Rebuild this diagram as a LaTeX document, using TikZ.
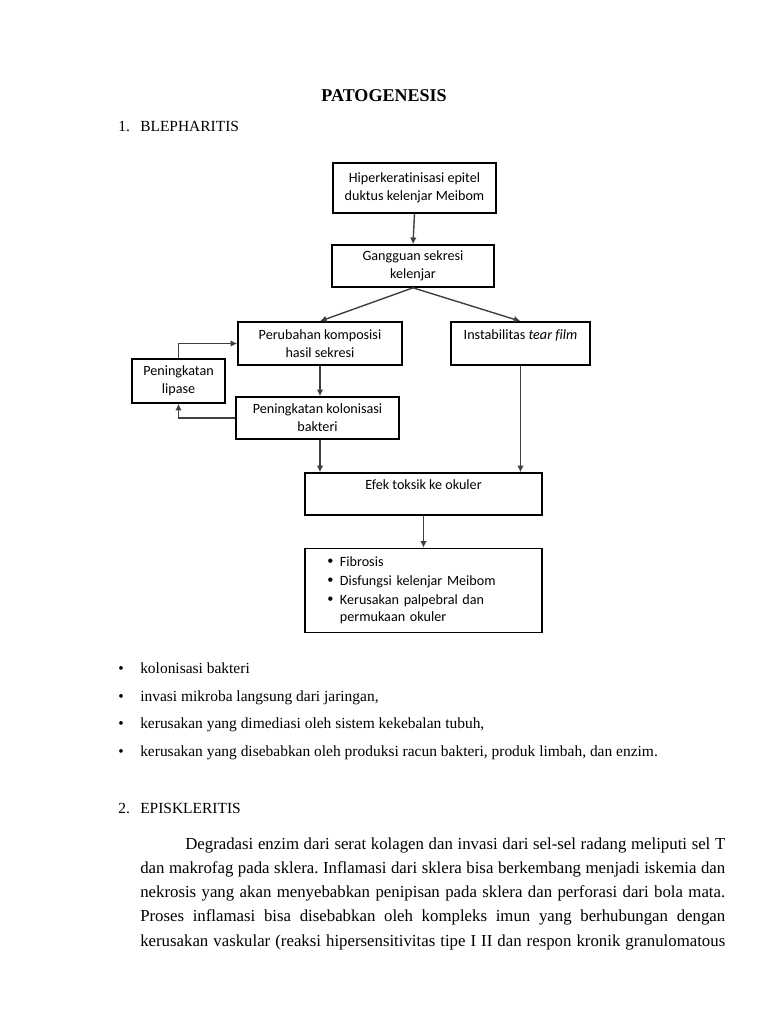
\documentclass[tikz,border=0pt]{standalone}
\usepackage{fontspec}
\setmainfont{Liberation Serif}
\newfontfamily\flowfont[Ligatures={NoCommon}]{Carlito}
\newfontfamily\bulfont{Liberation Sans}
\usetikzlibrary{arrows.meta}
\newcommand{\bodysize}{\fontsize{11.6pt}{18.2pt}\selectfont}
\newcommand{\parasize}{\fontsize{12.6pt}{18.2pt}\selectfont}
\newcommand{\jline}[2]{\makebox[#1][s]{#2}}
\newcommand{\fbul}{{\bulfont\fontsize{12pt}{12pt}\selectfont\textbullet}}
\begin{document}
\frenchspacing
\begin{tikzpicture}[x=0.75pt,y=-0.75pt,
  box/.style={draw=black,line width=1.2pt,inner sep=2pt,align=center,
    font=\flowfont\fontsize{10.6pt}{13.7pt}\selectfont},
  conn/.style={draw=black!75,line width=1.05pt,-{Latex[length=5pt,width=5pt]}},
  txt/.style={inner sep=0pt,anchor=base west,font=\bodysize},
  ptxt/.style={inner sep=0pt,anchor=base west,font=\parasize}]
\useasboundingbox (0,0) rectangle (768,1024);
\fill[white] (0,0) rectangle (768,1024);

% headings
\node[inner sep=0pt,anchor=base,font=\fontsize{13.5pt}{16pt}\selectfont\bfseries] (title) at (384,102) {PATOGENESIS};
\node[txt] (sec1) at (118,132) {\makebox[16.5pt][l]{1.}BLEPHARITIS};

% flowchart
\node[box,minimum width=122.25pt,minimum height=37.5pt] (h1) at (414.5,188) {Hiperkeratinisasi epitel\\duktus kelenjar Meibom};
\node[box,minimum width=121.5pt,minimum height=31.5pt] (h2) at (413,266) {Gangguan sekresi\\kelenjar};
\node[box,minimum width=123pt,minimum height=32.25pt] (h3) at (320,343.5) {Perubahan komposisi\\hasil sekresi};
\node[box,minimum width=104.25pt,minimum height=32.25pt] (h4) at (520.5,343.5) {Instabilitas \textit{tear film}\\\mbox{}};
\node[box,minimum width=69.75pt,minimum height=33pt] (h5) at (178.5,381) {Peningkatan\\lipase};
\node[box,minimum width=122.25pt,minimum height=31.5pt] (h6) at (317.5,418) {Peningkatan kolonisasi\\bakteri};
\node[box,minimum width=177.75pt,minimum height=31.5pt] (h7) at (423.5,494) {Efek toksik ke okuler\\\mbox{}};
\node[box,minimum width=177.75pt,minimum height=63pt,align=left,inner xsep=14pt,text width=149.75pt,
  font=\flowfont\fontsize{10.6pt}{12.75pt}\selectfont] (h8) at (423.5,590.5)
  {\begin{tabular}{@{\hspace{3pt}}l@{\hspace{5pt}}l@{}}
   \fbul & Fibrosis\\[1.5pt]
   \fbul & Disfungsi kelenjar Meibom\\[1.5pt]
   \fbul & Kerusakan palpebral dan\\
         & permukaan okuler
   \end{tabular}};

\draw[conn] (h1.south) -- (h2.north);
\draw[conn] (h2.south) -- (h3.north);
\draw[conn] (h2.south) -- (h4.north);
\draw[conn] (h3.south) -- (h3.south |- h6.north);
\draw[conn] (h5.north) |- (h3.west);
\draw[conn] (h6.west) -| (h5.south);
\draw[conn] (h3.south |- h6.south) -- (h3.south |- h7.north);
\draw[conn] (h4.south) -- (h4.south |- h7.north);
\draw[conn] (h7.south) -- (h8.north);

% bullet list
\node[txt] (b1) at (118,673) {\makebox[16.5pt][l]{\textbullet}kolonisasi bakteri};
\node[txt] (b2) at (118,701) {\makebox[16.5pt][l]{\textbullet}invasi mikroba langsung dari jaringan,};
\node[txt] (b3) at (118,728) {\makebox[16.5pt][l]{\textbullet}kerusakan yang dimediasi oleh sistem kekebalan tubuh,};
\node[txt] (b4) at (118,756) {\makebox[16.5pt][l]{\textbullet}kerusakan yang disebabkan oleh produksi racun bakteri, produk limbah, dan enzim.};

% section 2
\node[txt] (sec2) at (118,813) {\makebox[16.5pt][l]{2.}EPISKLERITIS};
\node[ptxt] (p1) at (185,849) {\jline{405pt}{Degradasi enzim dari serat kolagen dan invasi dari sel-sel radang meliputi sel T}};
\node[ptxt] (p2) at (140,873.25) {\jline{438.75pt}{dan makrofag pada sklera. Inflamasi dari sklera bisa berkembang menjadi iskemia dan}};
\node[ptxt] (p3) at (140,897.5) {\jline{438.75pt}{nekrosis yang akan menyebabkan penipisan pada sklera dan perforasi dari bola mata.}};
\node[ptxt] (p4) at (140,921.75) {\jline{438.75pt}{Proses inflamasi bisa disebabkan oleh kompleks imun yang berhubungan dengan}};
\node[ptxt] (p5) at (140,946) {\jline{438.75pt}{kerusakan vaskular (reaksi hipersensitivitas tipe I II dan respon kronik granulomatous}};
\end{tikzpicture}
\end{document}
